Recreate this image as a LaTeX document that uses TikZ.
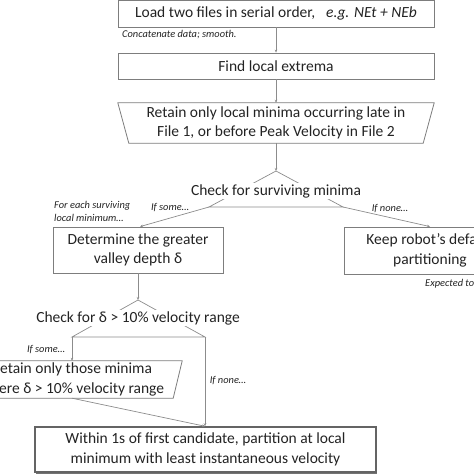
\documentclass[tikz,border=0pt]{standalone}
\usepackage{fontspec}
\setmainfont{Carlito}
\usetikzlibrary{arrows.meta,shadows}
\definecolor{ink}{RGB}{35,35,35}
\definecolor{boxc}{RGB}{125,125,125}
\definecolor{boxd}{RGB}{100,100,100}
\definecolor{arrc}{RGB}{140,140,140}
\begin{document}
\begin{tikzpicture}[x=1bp,y=-1bp,
  txt/.style={font=\fontsize{15.5bp}{19.5bp}\selectfont, text=ink, align=center},
  box/.style={txt, draw=boxc, line width=0.8bp, inner sep=0},
  note/.style={font=\fontsize{10.4bp}{13bp}\selectfont\itshape, text=ink, inner sep=0, align=left},
  arr/.style={draw=arrc, line width=0.7bp, -{Stealth[length=3bp,width=2.5bp]}},
  ln/.style={draw=arrc, line width=0.7bp},
  outline/.style={draw=boxc, line width=0.8bp},
  cover/.style={txt, fill=white, inner sep=1bp},
]
\useasboundingbox (0,0) rectangle (474,474);
\clip (0,0) rectangle (474,474);

% top boxes
\node[box, minimum width=316bp, minimum height=26.5bp] (load) at (276,13.75)
  {Load two files in serial order,\hspace{0.7em}\textit{e.g. NEt + NEb}};
\node[note, anchor=west] (concat) at (122,35) {Concatenate data; smooth.};
\node[box, minimum width=316bp, minimum height=26bp] (find) at (276,66) {Find local extrema};
\node[txt, minimum width=316bp, minimum height=40bp, inner sep=0] (retain1) at (276,123)
  {Retain only local minima occurring late in\\File 1, or before Peak Velocity in File 2};
\draw[outline] (retain1.north west) -- (retain1.north east)
  -- ([xshift=-11bp]retain1.south east) -- ([xshift=11bp]retain1.south west) -- cycle;
\draw[arr] (load.south) -- (find.north);
\draw[arr] (find.south) -- (retain1.north);

% decision 1
\coordinate (d1top) at (276,171);
\coordinate (d1l) at (209,207);
\coordinate (d1r) at (343,207);
\draw[arr] (retain1.south) -- (d1top);
\draw[ln] (d1top) -- (d1l) -- (d1r) -- cycle;
\node[cover, minimum height=16bp] (check1) at (276,191) {Check for surviving minima};

\node[box, minimum width=170bp, minimum height=46bp] (depth) at (138,250)
  {Determine the greater\\valley depth δ};
\node[box, minimum width=172bp, minimum height=47bp] (keep) at (430,250.5)
  {Keep robot’s default\\partitioning};
\draw[arr] (d1l) -- ([xshift=2bp]depth.north);
\draw[arr] (d1r) -- (keep.north);

\node[note] (ifsome1) at (170,208) {If some…};
\node[note, anchor=north west] (foreach) at (54,201) {For each surviving\\local minimum…};
\node[note] (ifnone1) at (390,209) {If none…};
\node[note, anchor=west] (expected) at (425,284) {Expected to};

% decision 2
\coordinate (d2top) at (138,300);
\coordinate (d2l) at (72,337);
\coordinate (d2r) at (205,337);
\draw[arr] (depth.south) -- (d2top);
\draw[ln] (d2top) -- (d2l) -- (d2r) -- cycle;
\node[cover] (check2) at (138,318) {Check for δ > 10\% velocity range};

\node[txt, minimum width=220bp, minimum height=37bp, inner sep=0] (retain2) at (72,379.5)
  {Retain only those minima\\where δ > 10\% velocity range};
\draw[outline] (retain2.north west) -- (retain2.north east)
  -- ([xshift=-9bp]retain2.south east) -- ([xshift=9bp]retain2.south west) -- cycle;
\draw[arr] (d2l) -- (retain2.north);

\node[note] (ifsome2) at (46,350) {If some…};
\node[note] (ifnone2) at (228,381) {If none…};

\node[box, line width=1.5bp, draw=boxd, fill=white,
  drop shadow={shadow xshift=1bp, shadow yshift=-1.8bp, fill=black!55, opacity=1},
  minimum width=341bp, minimum height=45bp] (final) at (205.5,449.5)
  {Within 1s of first candidate, partition at local\\minimum with least instantaneous velocity};
\draw[arr] (d2r) -- (d2r |- final.north);
\draw[arr] (retain2.south) -- (d2r |- final.north);
\end{tikzpicture}
\end{document}
